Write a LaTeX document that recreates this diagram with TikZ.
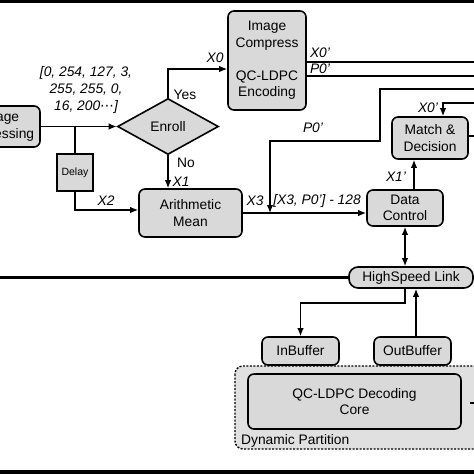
\documentclass[tikz,border=0pt]{standalone}
\usepackage{fontspec}
\setmainfont{Liberation Sans}
\newfontfamily\djfont{DejaVu Sans}
\usetikzlibrary{shapes.geometric,arrows.meta}
\definecolor{boxfill}{HTML}{D9D9D9}
\definecolor{partfill}{HTML}{E0E0E0}
\begin{document}
\begin{tikzpicture}[x=1pt,y=-1pt,
  font=\fontsize{13.8}{16.5}\selectfont,
  box/.style={draw,line width=1.6pt,fill=boxfill,rounded corners=6pt,inner sep=0pt,align=center},
  lbl/.style={font=\fontsize{13.8}{16.5}\selectfont\itshape,inner sep=0pt},
  txt/.style={inner sep=0pt},
  conn/.style={line width=1.4pt},
  arr/.style={conn,-{Latex[length=8pt,width=6.5pt]}},
  dbl/.style={conn,{Latex[length=8pt,width=6.5pt]}-{Latex[length=8pt,width=6.5pt]}}]
\useasboundingbox (0,0) rectangle (474,474);
\clip (0,0) rectangle (474,474);
\fill[white] (0,0) rectangle (474,474);
% partition background
\draw[line width=1.4pt,dash pattern=on 2pt off 1.5pt,fill=partfill,rounded corners=8pt] (235,366) rectangle (490,449);
% nodes
\node[box,minimum width=80pt,minimum height=41pt] (proc) at (0,126.5) {Image\\Processing};
\node[diamond,draw,line width=1.6pt,fill=boxfill,minimum width=101pt,minimum height=56pt,inner sep=0pt] (enroll) at (168,126.5) {Enroll};
\node[box,minimum width=78pt,minimum height=99pt] (comp) at (267,60.5) {Image\\Compress\\[16.5pt]QC-LDPC\\Encoding};
\node[box,minimum width=76pt,minimum height=42pt] (match) at (430,138) {Match \&\\Decision};
\node[box,minimum width=76pt,minimum height=36pt] (dc) at (405,208) {Data\\Control};
\node[box,minimum width=103pt,minimum height=48pt] (am) at (190.5,213) {Arithmetic\\Mean};
\node[draw,line width=1.6pt,fill=boxfill,minimum width=36pt,minimum height=37pt,inner sep=0pt,font=\fontsize{10.5}{12}\selectfont] (delay) at (75,172.5) {Delay};
\node[box,rounded corners=9pt,minimum width=124pt,minimum height=21pt] (hs) at (411,277.5) {HighSpeed Link};
\node[box,minimum width=77pt,minimum height=28pt] (inb) at (300.5,351) {InBuffer};
\node[box,minimum width=77pt,minimum height=28pt] (outb) at (412.5,351) {OutBuffer};
\node[box,minimum width=213pt,minimum height=55pt] (core) at (354.5,401.5) {QC-LDPC Decoding\\Core};
\node[txt,anchor=west] (dp) at (241,441) {Dynamic Partition};
% coordinates
\coordinate (j1) at (75,126.5);
\coordinate (j2) at (0,210);
\coordinate (j3) at (0,69);
\coordinate (e1) at (480,62);
\coordinate (e2) at (480,76);
\coordinate (e3) at (480,89);
\coordinate (e4) at (480,103);
\coordinate (e5) at (480,136);
\coordinate (k1) at (380,141);
\coordinate (k2) at (270,141);
\coordinate (k3) at (443,103);
\coordinate (k4) at (414,0);
\coordinate (k5) at (405,303);
\coordinate (k6) at (416,0);
\coordinate (d1) at (470,403);
\coordinate (d2) at (480,403);
\coordinate (t1) at (0,1.5);
\coordinate (t2) at (474,1.5);
\coordinate (b1) at (0,472);
\coordinate (b2) at (474,472);
\coordinate (h0) at (0,277.5);
% connectors
\draw[arr] (proc.east) -- (enroll.west);
\draw[conn] (j1) -- (delay.north);
\draw[arr] (delay.south) |- (am.west |- j2);
\draw[arr] (enroll.north) |- (comp.west |- j3);
\draw[arr] (enroll.south) -- (enroll.south |- am.north);
\draw[conn] (comp.east |- e1) -- (e1);
\draw[conn] (comp.east |- e2) -- (e2);
\draw[arr] (e3) -| (k1) -- (k2) -- (k2 |- am.east);
\draw[arr] (e4) -| (match.north -| k3);
\draw[conn] (match.east |- e5) -- (e5);
\draw[arr] (am.east) -- (am.east -| dc.west);
\draw[arr] (dc.north -| k4) -- (match.south -| k4);
\draw[dbl] (dc.south) -- (dc.south |- hs.north);
\draw[line width=3pt] (h0) -- (hs.west);
\draw[arr] (hs.south -| k5) -- (k5) -| (inb.north);
\draw[arr] (outb.north -| k6) -- (hs.south -| k6);
\draw[conn] (d1) -- (d2);
\draw[line width=3.5pt] (t1) -- (t2);
\draw[line width=4pt] (b1) -- (b2);
% labels
\node[lbl,align=center,font=\fontsize{13.8}{17}\selectfont\itshape] (list) at (86,90) {[0, 254, 127, 3,\\255, 255, 0,\\16, 200{\djfont ⋯}]};
\node[txt] (yes) at (185,95) {Yes};
\node[txt] (no) at (186,163) {No};
\node[lbl] (lx0) at (215,58) {X0};
\node[lbl] (lx0p) at (320,53) {X0'};
\node[lbl] (lp0p) at (320,69) {P0'};
\node[lbl] (lp0b) at (313,128) {P0'};
\node[lbl] (lx0m) at (428,108) {X0'};
\node[lbl] (lx1p) at (396,177) {X1'};
\node[lbl] (lx1) at (181,182) {X1};
\node[lbl] (lx2) at (106,201) {X2};
\node[lbl] (lx3) at (255,201) {X3};
\node[lbl] (lx3p) at (317,201) {[X3, P0'] - 128};
\end{tikzpicture}
\end{document}
